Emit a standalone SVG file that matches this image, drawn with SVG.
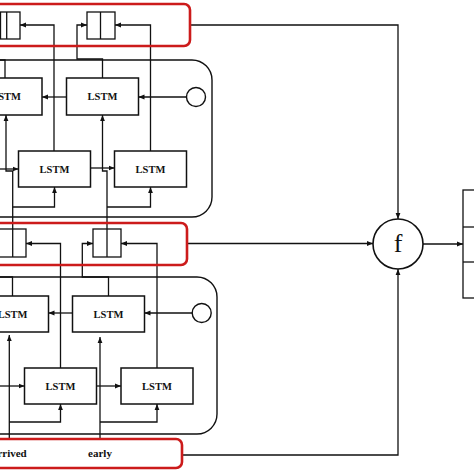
<svg xmlns="http://www.w3.org/2000/svg" width="474" height="474" viewBox="0 0 474 474">
<defs>
<marker id="ah" viewBox="0 0 10 10" refX="10" refY="5" markerWidth="6" markerHeight="6" markerUnits="userSpaceOnUse" orient="auto"><path d="M0,1 L10,5 L0,9 z" fill="#111"/></marker>
<style>
.ln{fill:none;stroke:#111;stroke-width:1.3}
.ar{fill:none;stroke:#111;stroke-width:1.3;marker-end:url(#ah)}
.box{fill:#fff;stroke:#111;stroke-width:1.5}
.cell{fill:#fff;stroke:#111;stroke-width:1.3}
.cont{fill:none;stroke:#111;stroke-width:1.4}
.red{fill:none;stroke:#cc1b1b;stroke-width:2.6}
.lbl{font-family:"Liberation Serif","Times New Roman",serif;font-weight:bold;font-size:10.5px;text-anchor:middle;fill:#111}
.word{font-family:"Liberation Serif","Times New Roman",serif;font-weight:bold;font-size:11px;text-anchor:middle;fill:#111}
</style>
</defs>
<rect width="474" height="474" fill="#fff"/>

<!-- containers -->
<g id="container-upper"><rect class="cont" x="-30" y="60" width="242" height="157" rx="20"/></g>
<g id="container-lower"><rect class="cont" x="-30" y="277" width="247" height="157" rx="20"/></g>

<!-- connectors -->
<g id="connectors">
  <!-- outputs to f -->
  <path class="ar" d="M190,25 H398 V219"/>
  <path class="ar" d="M187,243.5 H373"/>
  <path class="ar" d="M182,455 H398 V269"/>
  <path class="ar" d="M423,244 H463"/>

  <!-- upper layer -->
  <path class="ar" d="M186.5,97 H138.5"/>
  <path class="ar" d="M66.5,97 H42"/>
  <path class="ar" d="M0,169 H18.5"/>
  <path class="ar" d="M90.5,168 H114.5"/>
  <path class="ar" d="M54,151 V25 H20"/>
  <path class="ar" d="M150.5,151 V25 H115"/>
  <path class="ar" d="M102.5,78 V59 H77 V25 H87"/>
  <path class="ln" d="M5,78 V60 H-10"/>
  <path class="ar" d="M12.7,229 V171 H6 V115"/>
  <path class="ar" d="M12.7,207 H54.5 V187"/>
  <path class="ar" d="M107,229 V171 H102.5 V115"/>
  <path class="ar" d="M107,207 H150.5 V187"/>

  <!-- lower layer -->
  <path class="ar" d="M192.2,313 H144.5"/>
  <path class="ar" d="M72.5,313 H48.5"/>
  <path class="ar" d="M0,386 H24.5"/>
  <path class="ar" d="M96.5,386 H121"/>
  <path class="ar" d="M60.5,368 V243.5 H26"/>
  <path class="ar" d="M157,368 V243.5 H121"/>
  <path class="ar" d="M108.5,296 V277 H82.3 V243.5 H93"/>
  <path class="ln" d="M12.5,296 V277 H-10"/>
  <path class="ar" d="M9.3,439 V335"/>
  <path class="ar" d="M9.3,422 H60.5 V404"/>
  <path class="ar" d="M100,439 V337"/>
  <path class="ar" d="M100,422 H157 V404"/>
</g>

<!-- red boxes -->
<g id="concat-top">
  <rect class="red" x="-10" y="4" width="200" height="42" rx="6"/>
  <rect class="cell" x="0.5" y="12" width="19.5" height="27"/><line class="ln" x1="6.7" y1="12" x2="6.7" y2="39"/>
  <rect class="cell" x="87" y="12" width="28" height="27"/><line class="ln" x1="100.5" y1="12" x2="100.5" y2="39"/>
</g>
<g id="concat-mid">
  <rect class="red" x="-10" y="223" width="197" height="42" rx="6"/>
  <rect class="cell" x="-2" y="229" width="28" height="28"/><line class="ln" x1="12.7" y1="229" x2="12.7" y2="257"/>
  <rect class="cell" x="93" y="229" width="28" height="28"/><line class="ln" x1="107" y1="229" x2="107" y2="257"/>
</g>
<g id="words">
  <rect class="red" x="-10" y="439" width="192" height="29" rx="6"/>
  <text class="word" x="9.3" y="457">arrived</text>
  <text class="word" x="100" y="457">early</text>
</g>

<!-- upper LSTMs -->
<g id="u-tl"><rect class="box" x="-30" y="78" width="72" height="37"/><text class="lbl" x="6" y="100">LSTM</text></g>
<g id="u-tr"><rect class="box" x="66.5" y="78" width="72" height="37"/><text class="lbl" x="102.5" y="100">LSTM</text></g>
<g id="u-bl"><rect class="box" x="18.5" y="151" width="72" height="36"/><text class="lbl" x="54.5" y="172.5">LSTM</text></g>
<g id="u-br"><rect class="box" x="114.5" y="151" width="72" height="36"/><text class="lbl" x="150.5" y="172.5">LSTM</text></g>
<g id="u-init"><circle cx="196" cy="97" r="9.5" fill="#fff" stroke="#111" stroke-width="1.4"/></g>

<!-- lower LSTMs -->
<g id="l-tl"><rect class="box" x="-23.5" y="296" width="72" height="36"/><text class="lbl" x="12.5" y="317.5">LSTM</text></g>
<g id="l-tr"><rect class="box" x="72.5" y="296" width="72" height="36"/><text class="lbl" x="108.5" y="317.5">LSTM</text></g>
<g id="l-bl"><rect class="box" x="24.5" y="368" width="72" height="36"/><text class="lbl" x="60.5" y="389.5">LSTM</text></g>
<g id="l-br"><rect class="box" x="121" y="368" width="72" height="36"/><text class="lbl" x="157" y="389.5">LSTM</text></g>
<g id="l-init"><circle cx="201.7" cy="313" r="9.5" fill="#fff" stroke="#111" stroke-width="1.4"/></g>

<!-- f -->
<g id="f-node">
  <circle cx="398" cy="244" r="25" fill="#fff" stroke="#111" stroke-width="1.6"/>
  <text x="398" y="252" font-family="Liberation Serif, Times New Roman, serif" font-size="26" text-anchor="middle" fill="#111">f</text>
</g>

<!-- output -->
<g id="output">
  <rect class="cell" x="463" y="190" width="20" height="108"/>
  <line class="ln" x1="463" y1="227" x2="474" y2="227"/>
  <line class="ln" x1="463" y1="262" x2="474" y2="262"/>
</g>
</svg>
